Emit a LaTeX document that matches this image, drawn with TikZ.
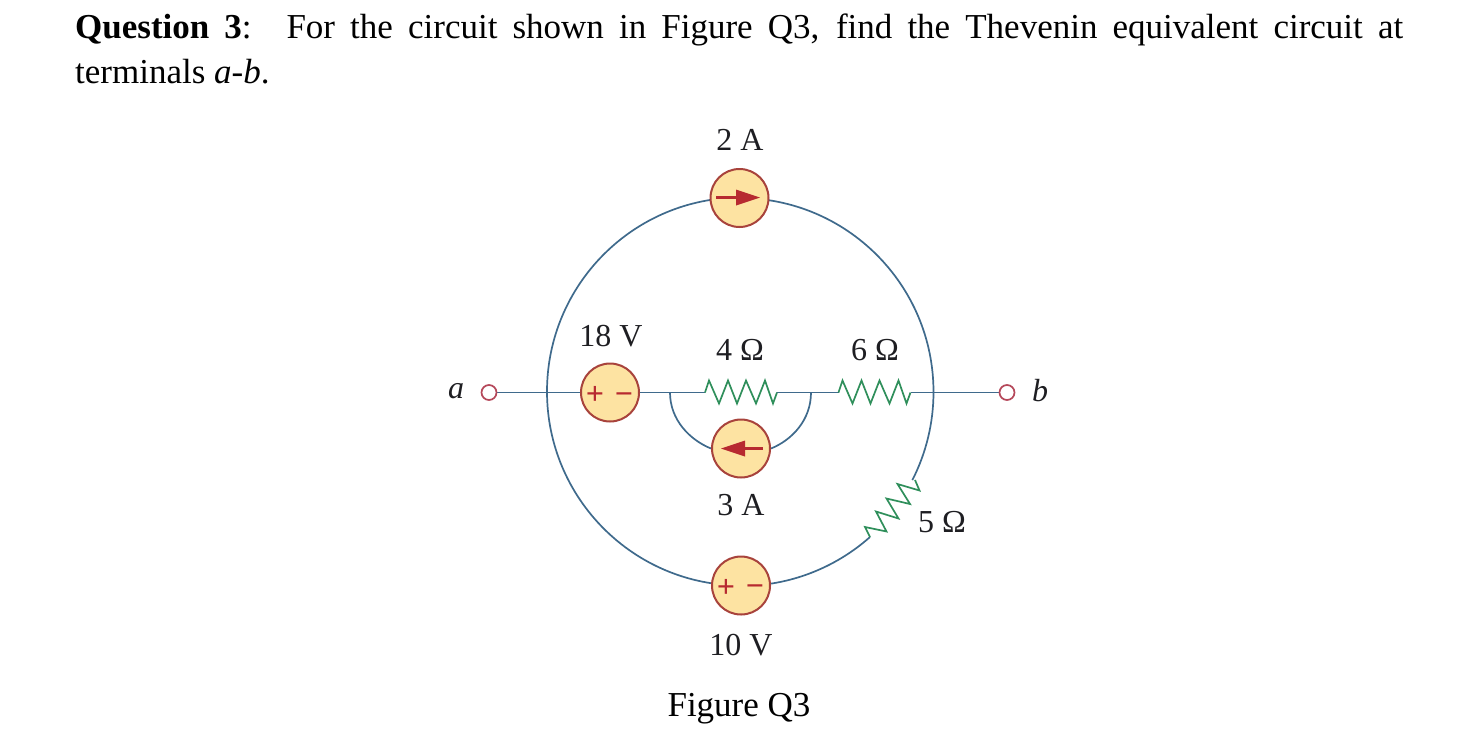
\documentclass[tikz,border=0pt]{standalone}
\usepackage{fontspec}
\setmainfont{Liberation Serif}
\usetikzlibrary{backgrounds}
\definecolor{wire}{HTML}{3F6A8C}
\definecolor{resgreen}{HTML}{2F8F5B}
\definecolor{srcfill}{HTML}{FDE3A2}
\definecolor{srcline}{HTML}{A8433C}
\definecolor{arrowred}{HTML}{B72A30}
\definecolor{termred}{HTML}{B5485A}
\definecolor{ink}{HTML}{1E1E22}
\tikzset{
  x=1pt,y=1pt,
  wireline/.style={draw=wire,line width=1.7pt},
  resline/.style={draw=resgreen,line width=1.7pt,line join=miter},
  source/.style={circle,draw=srcline,fill=srcfill,line width=2pt,minimum size=58pt,inner sep=0pt},
  terminal/.style={circle,draw=termred,fill=white,line width=1.7pt,minimum size=15pt,inner sep=0pt},
  lbl/.style={inner sep=0pt,text=ink,font=\fontsize{32}{36}\selectfont},
  sign/.style={inner sep=0pt,text=arrowred,font=\bfseries\fontsize{32}{36}\selectfont},
  bodytext/.style={inner sep=0pt,anchor=base west,text=black,font=\fontsize{35}{45}\selectfont},
  currentarrow/.style={draw=arrowred,line width=2.6pt}
}
\begin{document}
\begin{tikzpicture}
\useasboundingbox (0,0) rectangle (1477,-737);
% text
\node[bodytext] (line1) at (75,-38) {\makebox[1328pt][s]{\textbf{Question 3}:\hspace{0.3em} For the circuit shown in Figure Q3, find the Thevenin equivalent circuit at}};
\node[bodytext] (line2) at (75,-83) {terminals \textit{a}-\textit{b}.};
% sources and terminals
\node[source] (s2a) at (739.5,-198) {};
\node[source] (s10) at (741,-585.5) {};
\node[source] (s18) at (610,-392.5) {};
\node[source] (s3a) at (741,-448.5) {};
\node[terminal] (ta) at (489,-392.5) {};
\node[terminal] (tb) at (1007,-392.5) {};
% resistor ends and junctions
\coordinate (r4a) at (705,-392.5);
\coordinate (r4b) at (777,-392.5);
\coordinate (r6a) at (838.5,-392.5);
\coordinate (r6b) at (910.5,-392.5);
\coordinate (r5a) at (915,-480);
\coordinate (r5b) at (870,-537);
\coordinate (ja) at (670,-392.5);
\coordinate (jb) at (811,-392.5);
% wires
\begin{scope}[on background layer]
\draw[wireline] (ta) -- (s18);
\draw[wireline] (s18) -- (r4a);
\draw[wireline] (r4b) -- (r6a);
\draw[wireline] (r6b) -- (tb);
\draw[wireline] (s2a.center) arc[start angle=90,end angle=-27,radius=194];
\draw[wireline] (r5b) arc[start angle=-48.4,end angle=-90,radius=194];
\draw[wireline] (s10.center) arc[start angle=270,end angle=90,radius=194];
\draw[wireline] (ja) .. controls (670,-420) and (690,-440) .. (s3a.west);
\draw[wireline] (jb) .. controls (811,-420) and (792,-440) .. (s3a.east);
\end{scope}
% resistors
\draw[resline] (r4a) -- ++(4,12) -- ++(10,-23) -- ++(9,23) -- ++(9,-23) -- ++(9,23) -- ++(10,-23) -- ++(9,23) -- ++(8,-23) -- (r4b);
\draw[resline] (r6a) -- ++(4,12) -- ++(10,-23) -- ++(9,23) -- ++(9,-23) -- ++(9,23) -- ++(10,-23) -- ++(9,23) -- ++(8,-23) -- (r6b);
\draw[resline] (r5a) -- (919.5,-490.5) -- (897.5,-484) -- (910,-504) -- (886.5,-498.5) -- (898.5,-518.5) -- (876,-511.5) -- (886.5,-531.5) -- (865,-527) -- (r5b);
% arrows in current sources
\draw[currentarrow] (716,-197.5) -- (740,-197.5);
\fill[arrowred] (760,-197.5) -- (736,-189.5) -- (736,-205.5) -- cycle;
\draw[currentarrow] (763,-448.5) -- (740,-448.5);
\fill[arrowred] (721,-448.5) -- (745,-440.5) -- (745,-456.5) -- cycle;
% polarity signs
\node[sign] (p18) at (595,-395) {+};
\node[sign] (m18) at (624,-399) {−};
\node[sign] (p10) at (726,-588) {+};
\node[sign] (m10) at (755,-591) {−};
% labels
\node[lbl] (l18) at (611,-336) {18 V};
\node[lbl] (l4) at (740,-350) {4 Ω};
\node[lbl] (l6) at (875,-350) {6 Ω};
\node[lbl] (l2) at (740,-140) {2 A};
\node[lbl] (l3) at (741,-505) {3 A};
\node[lbl] (l5) at (942,-522) {5 Ω};
\node[lbl] (l10) at (741,-645) {10 V};
\node[lbl] (la) at (456,-391) {\textit{a}};
\node[lbl] (lb) at (1040,-391) {\textit{b}};
\node[inner sep=0pt,text=black,font=\fontsize{35}{40}\selectfont] (fig) at (739,-709) {Figure Q3};
\end{tikzpicture}
\end{document}
